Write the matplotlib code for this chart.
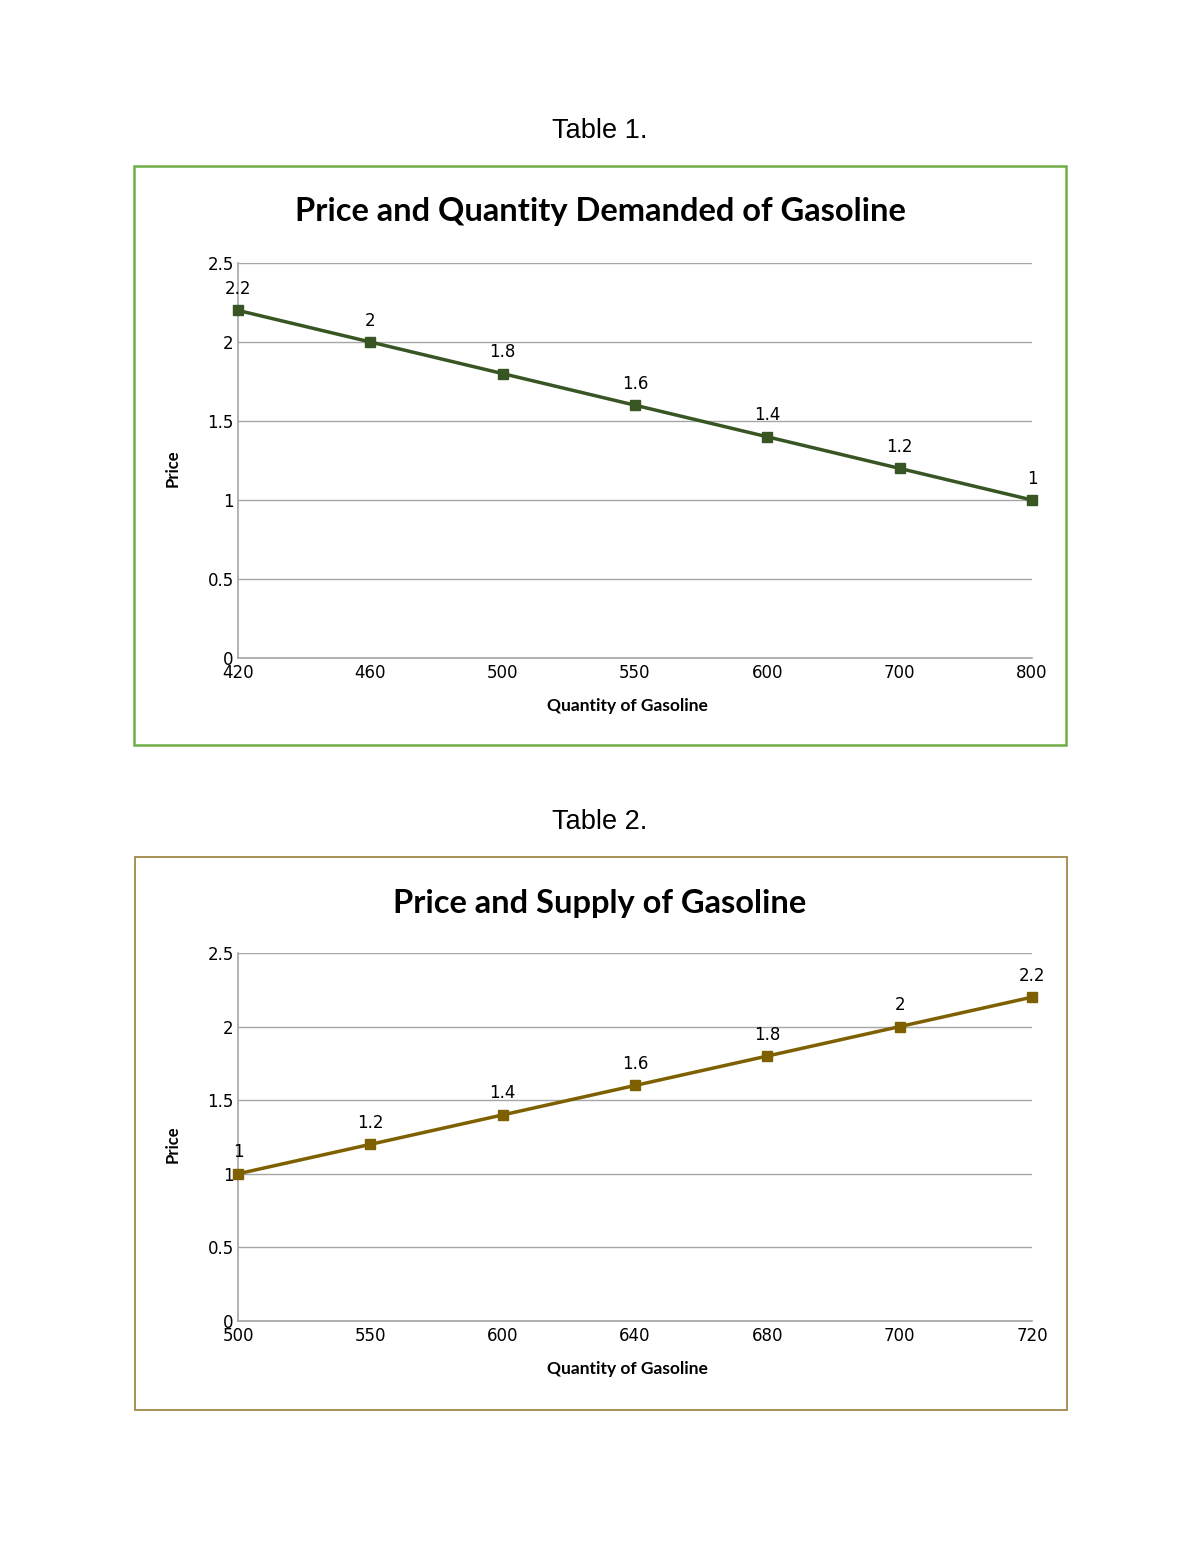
import matplotlib.pyplot as plt
from matplotlib.patches import Rectangle

# Table 1 data (demand)
demand_qty = ['420', '460', '500', '550', '600', '700', '800']
demand_price = [2.2, 2.0, 1.8, 1.6, 1.4, 1.2, 1.0]

# Table 2 data (supply)
supply_qty = ['500', '550', '600', '640', '680', '700', '720']
supply_price = [1.0, 1.2, 1.4, 1.6, 1.8, 2.0, 2.2]

y_ticks = [0, 0.5, 1, 1.5, 2, 2.5]

W, H = 1200, 1553
fig = plt.figure(figsize=(W / 100, H / 100), dpi=100)


def fx(px):
    return px / W


def fy(py):
    return 1 - py / H


def fmt(v):
    return ('%g' % v)


def draw_chart(box, plot, label, title, cats, vals, line_color, border_color, border_lw):
    # caption above the box
    fig.text(0.5, fy(box[1] - 35), label, ha='center', va='center',
             fontsize=19.5, family='Liberation Sans')
    # border rectangle
    x0, y0, x1, y1 = box
    fig.patches.append(Rectangle((fx(x0), fy(y1)), fx(x1 - x0), (y1 - y0) / H,
                                 transform=fig.transFigure, fill=False,
                                 edgecolor=border_color, linewidth=border_lw))
    fig.text(0.5, fy(box[1] + 46), title, ha='center', va='center',
             fontsize=23.5, fontweight='bold', family='Lato')

    px0, py0, px1, py1 = plot
    ax = fig.add_axes([fx(px0), fy(py1), fx(px1 - px0), (py1 - py0) / H])
    xs = range(len(cats))
    ax.plot(xs, vals, color=line_color, lw=2.5, marker='s', markersize=7.5,
            zorder=3, clip_on=False)
    for x, v in zip(xs, vals):
        ax.annotate(fmt(v), (x, v), xytext=(0, 9), textcoords='offset points',
                    ha='center', va='bottom', fontsize=12, family='DejaVu Sans')
    ax.set_xlim(0, len(cats) - 1)
    ax.set_ylim(0, 2.5)
    ax.set_xticks(list(xs))
    ax.set_xticklabels(cats)
    ax.set_yticks(y_ticks)
    ax.set_yticklabels([fmt(t) for t in y_ticks])
    ax.tick_params(length=0, labelsize=12, pad=3)
    ax.tick_params(axis='x', pad=4)
    ax.grid(axis='y', color='#A6A6A6', lw=1)
    ax.set_axisbelow(True)
    for s in ['top', 'right']:
        ax.spines[s].set_visible(False)
    for s in ['left', 'bottom']:
        ax.spines[s].set_color('#A6A6A6')
        ax.spines[s].set_linewidth(1.2)
    ax.set_xlabel('Quantity of Gasoline', fontsize=12.5, fontweight='bold',
                  family='Lato')
    ax.xaxis.set_label_coords(0.49, -40 / (py1 - py0))
    ax.set_ylabel('Price', fontsize=12, fontweight='bold', family='Lato')
    ax.yaxis.set_label_coords(-57 / (px1 - px0), 0.48)
    return ax


draw_chart((134, 166, 1066, 745), (238, 263, 1032, 658), 'Table 1.',
           'Price and Quantity Demanded of Gasoline', demand_qty, demand_price,
           '#375623', '#70AD47', 1.8)
draw_chart((135, 857, 1067, 1410), (238, 953, 1032, 1321), 'Table 2.',
           'Price and Supply of Gasoline', supply_qty, supply_price,
           '#7F6000', '#A0884A', 1.3)

fig.savefig('out.png', dpi=100)
